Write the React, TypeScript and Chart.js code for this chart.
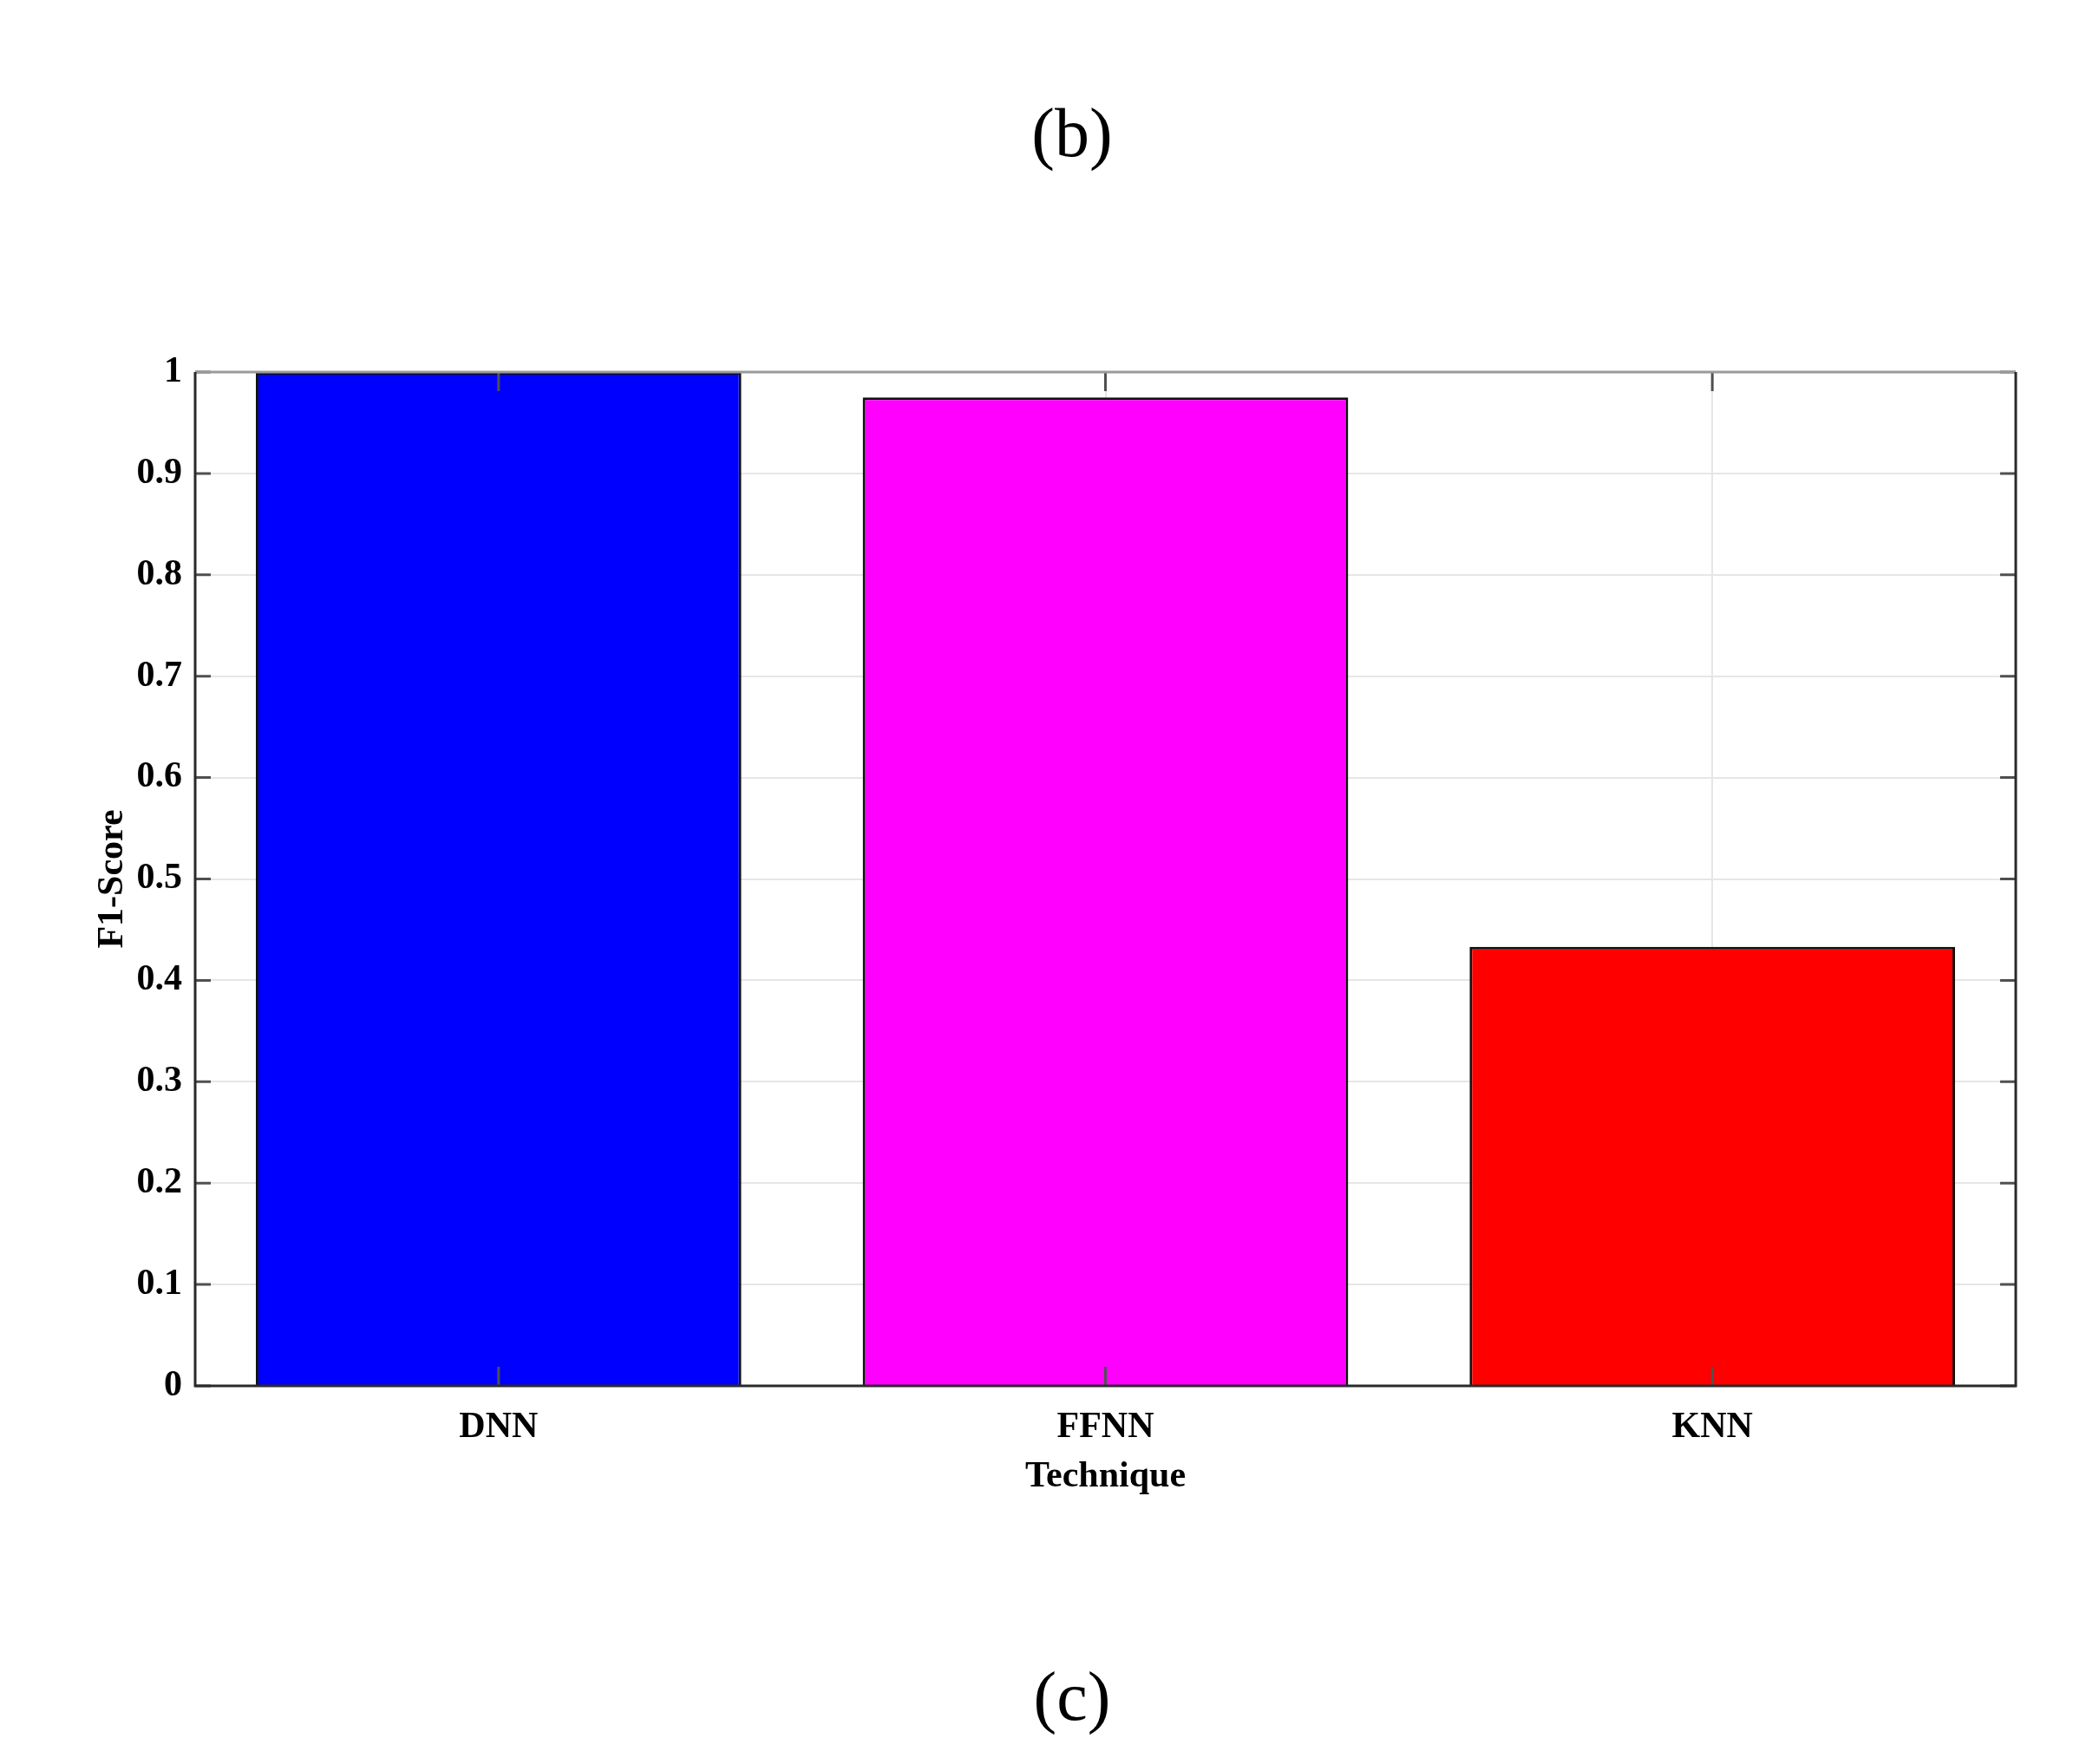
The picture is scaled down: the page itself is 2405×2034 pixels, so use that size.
import React, { useEffect, useRef } from "react";
import { Chart, registerables } from "chart.js";

Chart.register(...registerables);

const categories = ["DNN", "FFNN", "KNN"];
const f1Scores = [1.0, 0.975, 0.433];
const barColors = ["#0000ff", "#ff00ff", "#ff0000"];
const yTickLabels = ["0", "0.1", "0.2", "0.3", "0.4", "0.5", "0.6", "0.7", "0.8", "0.9", "1"];
const xAxisTitle = "Technique";
const yAxisTitle = "F1-Score";
const topCaption = "(b)";
const bottomCaption = "(c)";

const W = 2405;
const H = 2034;
const FONT = "'Liberation Serif', 'Times New Roman', serif";

const boxPlugin = {
  id: "matlabBox",
  afterDatasetsDraw(chart: any) {
    const { ctx, chartArea } = chart;
    const { left, right, top, bottom } = chartArea;
    const y = chart.scales.y;
    const x = chart.scales.x;
    ctx.save();
    ctx.lineCap = "butt";
    ctx.strokeStyle = "#505050";
    ctx.lineWidth = 3;
    y.ticks.forEach((t: any) => {
      const py = y.getPixelForValue(t.value);
      ctx.beginPath();
      ctx.moveTo(left, py);
      ctx.lineTo(left + 18, py);
      ctx.moveTo(right, py);
      ctx.lineTo(right - 18, py);
      ctx.stroke();
    });
    x.ticks.forEach((_t: any, i: number) => {
      const px = x.getPixelForTick(i);
      ctx.beginPath();
      ctx.moveTo(px, top);
      ctx.lineTo(px, top + 22);
      ctx.moveTo(px, bottom);
      ctx.lineTo(px, bottom - 22);
      ctx.stroke();
    });
    ctx.lineWidth = 3;
    ctx.strokeStyle = "#9a9a9a";
    ctx.beginPath();
    ctx.moveTo(left, top);
    ctx.lineTo(right, top);
    ctx.stroke();
    ctx.strokeStyle = "#2a2a2a";
    ctx.beginPath();
    ctx.moveTo(right, top);
    ctx.lineTo(right, bottom);
    ctx.lineTo(left, bottom);
    ctx.lineTo(left, top);
    ctx.stroke();
    ctx.restore();
  },
};

export default function App() {
  const canvasRef = useRef<HTMLCanvasElement | null>(null);

  useEffect(() => {
    const canvas = canvasRef.current;
    if (!canvas) return;
    const chart = new Chart(canvas, {
      type: "bar",
      data: {
        labels: categories,
        datasets: [
          {
            data: f1Scores,
            backgroundColor: barColors,
            borderColor: "#111111",
            borderWidth: 3,
            categoryPercentage: 0.8,
            barPercentage: 1.0,
          },
        ],
      },
      options: {
        animation: false,
        responsive: false,
        devicePixelRatio: 1,
        layout: { padding: { left: 0, right: 81, top: 429, bottom: 2034 - 1598 - 143 } },
        plugins: {
          legend: { display: false },
          tooltip: { enabled: false },
        },
        scales: {
          x: {
            offset: true,
            grid: { display: true, offset: false, color: "#e6e6e6", lineWidth: 2, drawTicks: false },
            border: { display: false },
            ticks: {
              padding: 23,
              color: "#000",
              font: { family: FONT, size: 42, weight: "bold" },
            },
            title: {
              display: true,
              text: xAxisTitle,
              color: "#000",
              font: { family: FONT, size: 42, weight: "bold" },
              padding: { top: 0, bottom: 13 },
            },
            afterFit: (scale: any) => {
              scale.height = 143;
            },
          },
          y: {
            min: 0,
            max: 1,
            grid: { color: "#e6e6e6", lineWidth: 2, drawTicks: false },
            border: { display: false },
            ticks: {
              stepSize: 0.1,
              padding: 15,
              color: "#000",
              font: { family: FONT, size: 42, weight: "bold" },
              callback: (_v: any, i: number) => yTickLabels[i],
            },
            title: {
              display: true,
              text: yAxisTitle,
              color: "#000",
              font: { family: FONT, size: 42, weight: "bold" },
              padding: { top: 105, bottom: 0 },
            },
            afterFit: (scale: any) => {
              scale.width = 225;
            },
          },
        },
      },
      plugins: [boxPlugin],
    } as any);
    return () => chart.destroy();
  }, []);

  const captionStyle: React.CSSProperties = {
    position: "absolute",
    left: 1136,
    width: 200,
    textAlign: "center",
    fontFamily: FONT,
    fontSize: 80,
    lineHeight: "80px",
    color: "#000",
  };

  return (
    <div style={{ position: "absolute", left: 0, top: 0, width: W, height: H, background: "#fff" }}>
      <canvas ref={canvasRef} width={W} height={H} style={{ display: "block", width: W, height: H }} />
      <div style={{ ...captionStyle, top: 113 }}>{topCaption}</div>
      <div style={{ ...captionStyle, top: 1916 }}>{bottomCaption}</div>
    </div>
  );
}
